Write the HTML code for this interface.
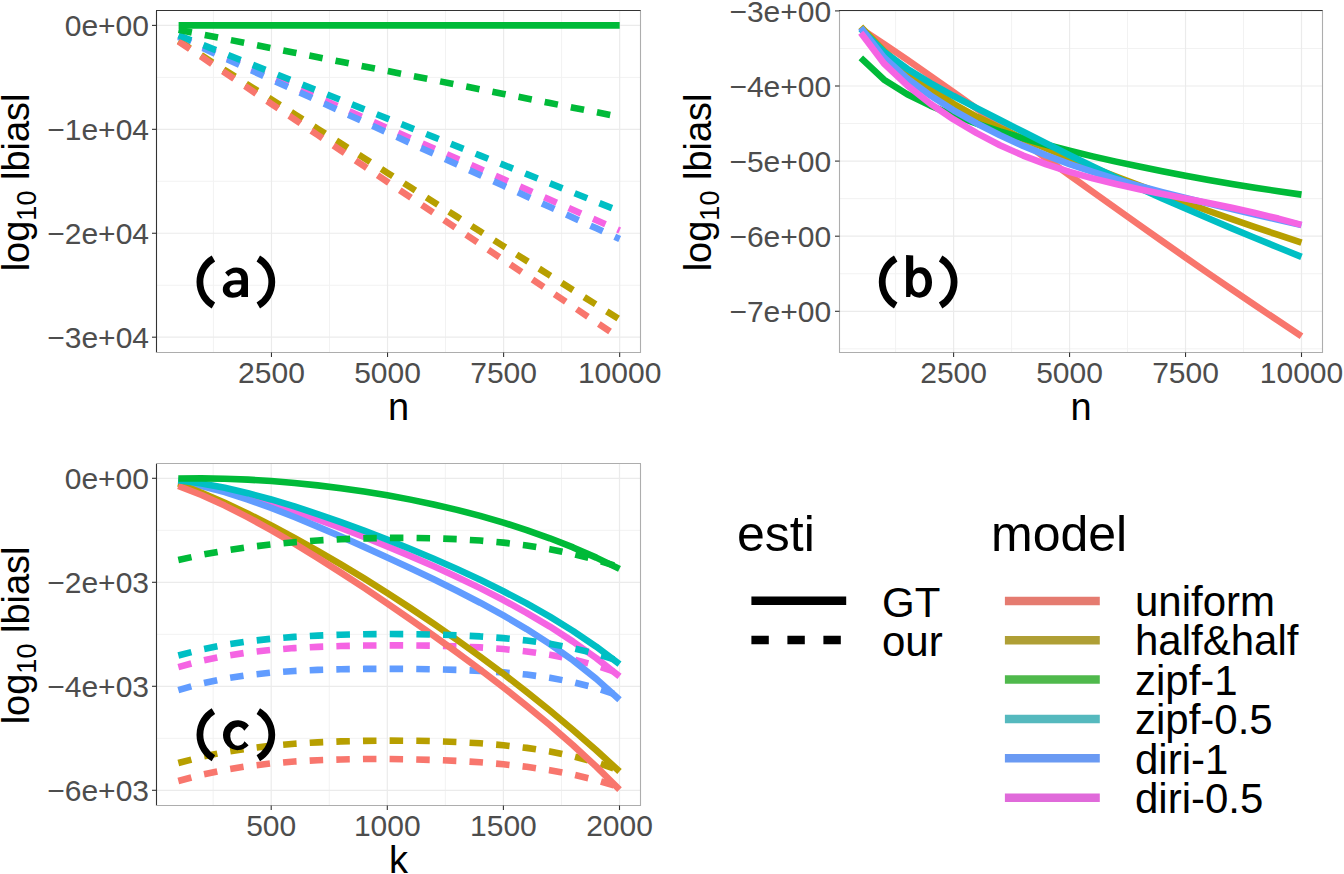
<!DOCTYPE html>
<html><head><meta charset="utf-8"><style>
html,body{margin:0;padding:0;background:#fff;}
svg{display:block;}
text{font-family:"Liberation Sans",sans-serif;}
.tk{font-size:30px;fill:#4D4D4D;}
.ax{font-size:38px;fill:#000;}
.sub{font-size:27px;}
.lt{font-size:50px;fill:#000;}
.ll{font-size:42px;fill:#000;}
.tag{font-weight:bold;fill:#000;}
</style></head><body>
<svg width="1344" height="874" viewBox="0 0 1344 874">
<rect x="0" y="0" width="1344" height="874" fill="#fff"/>
<line x1="213.43375" y1="10.5" x2="213.43375" y2="352.5" stroke="#F2F2F2" stroke-width="1"/>
<line x1="329.50125" y1="10.5" x2="329.50125" y2="352.5" stroke="#F2F2F2" stroke-width="1"/>
<line x1="445.56875" y1="10.5" x2="445.56875" y2="352.5" stroke="#F2F2F2" stroke-width="1"/>
<line x1="561.63625" y1="10.5" x2="561.63625" y2="352.5" stroke="#F2F2F2" stroke-width="1"/>
<line x1="156.5" y1="77.365" x2="640.5" y2="77.365" stroke="#F2F2F2" stroke-width="1"/>
<line x1="156.5" y1="181.295" x2="640.5" y2="181.295" stroke="#F2F2F2" stroke-width="1"/>
<line x1="156.5" y1="285.22499999999997" x2="640.5" y2="285.22499999999997" stroke="#F2F2F2" stroke-width="1"/>
<line x1="271.46750000000003" y1="10.5" x2="271.46750000000003" y2="352.5" stroke="#EBEBEB" stroke-width="1.2"/>
<line x1="387.535" y1="10.5" x2="387.535" y2="352.5" stroke="#EBEBEB" stroke-width="1.2"/>
<line x1="503.6025000000001" y1="10.5" x2="503.6025000000001" y2="352.5" stroke="#EBEBEB" stroke-width="1.2"/>
<line x1="619.6700000000001" y1="10.5" x2="619.6700000000001" y2="352.5" stroke="#EBEBEB" stroke-width="1.2"/>
<line x1="156.5" y1="25.4" x2="640.5" y2="25.4" stroke="#EBEBEB" stroke-width="1.2"/>
<line x1="156.5" y1="129.32999999999998" x2="640.5" y2="129.32999999999998" stroke="#EBEBEB" stroke-width="1.2"/>
<line x1="156.5" y1="233.26" x2="640.5" y2="233.26" stroke="#EBEBEB" stroke-width="1.2"/>
<line x1="156.5" y1="337.18999999999994" x2="640.5" y2="337.18999999999994" stroke="#EBEBEB" stroke-width="1.2"/>
<path d="M178.61,36.00 L201.83,46.24 L225.04,56.47 L248.25,66.71 L271.47,76.95 L294.68,87.18 L317.89,97.42 L341.11,107.66 L364.32,117.89 L387.54,128.13 L410.75,138.37 L433.96,148.61 L457.18,158.84 L480.39,169.08 L503.60,179.32 L526.82,189.55 L550.03,199.79 L573.24,210.03 L596.46,220.26 L619.67,230.50" fill="none" stroke="#F564E3" stroke-width="6.6" stroke-linejoin="round" stroke-linecap="butt" stroke-dasharray="13.5 13.15"/>
<path d="M178.61,37.00 L201.83,47.63 L225.04,58.26 L248.25,68.89 L271.47,79.53 L294.68,90.16 L317.89,100.79 L341.11,111.42 L364.32,122.05 L387.54,132.68 L410.75,143.32 L433.96,153.95 L457.18,164.58 L480.39,175.21 L503.60,185.84 L526.82,196.47 L550.03,207.11 L573.24,217.74 L596.46,228.37 L619.67,239.00" fill="none" stroke="#619CFF" stroke-width="6.6" stroke-linejoin="round" stroke-linecap="butt" stroke-dasharray="13.5 13.15"/>
<path d="M178.61,41.00 L201.83,55.66 L225.04,70.32 L248.25,84.97 L271.47,99.63 L294.68,114.29 L317.89,128.95 L341.11,143.61 L364.32,158.26 L387.54,172.92 L410.75,187.58 L433.96,202.24 L457.18,216.89 L480.39,231.55 L503.60,246.21 L526.82,260.87 L550.03,275.53 L573.24,290.18 L596.46,304.84 L619.67,319.50" fill="none" stroke="#B79F00" stroke-width="6.6" stroke-linejoin="round" stroke-linecap="butt" stroke-dasharray="13.5 13.15"/>
<path d="M178.61,41.50 L201.83,57.11 L225.04,72.71 L248.25,88.32 L271.47,103.92 L294.68,119.53 L317.89,135.13 L341.11,150.74 L364.32,166.34 L387.54,181.95 L410.75,197.55 L433.96,213.16 L457.18,228.76 L480.39,244.37 L503.60,259.97 L526.82,275.58 L550.03,291.18 L573.24,306.79 L596.46,322.39 L619.67,338.00" fill="none" stroke="#F8766D" stroke-width="6.6" stroke-linejoin="round" stroke-linecap="butt" stroke-dasharray="13.5 13.15"/>
<path d="M178.61,35.30 L201.83,44.56 L225.04,53.82 L248.25,63.07 L271.47,72.33 L294.68,81.59 L317.89,90.85 L341.11,100.11 L364.32,109.36 L387.54,118.62 L410.75,127.88 L433.96,137.14 L457.18,146.39 L480.39,155.65 L503.60,164.91 L526.82,174.17 L550.03,183.43 L573.24,192.68 L596.46,201.94 L619.67,211.20" fill="none" stroke="#00BFC4" stroke-width="6.6" stroke-linejoin="round" stroke-linecap="butt" stroke-dasharray="13.5 13.15"/>
<path d="M178.61,25.40 L201.83,25.40 L225.04,25.40 L248.25,25.40 L271.47,25.40 L294.68,25.40 L317.89,25.40 L341.11,25.40 L364.32,25.40 L387.54,25.40 L410.75,25.40 L433.96,25.40 L457.18,25.40 L480.39,25.40 L503.60,25.40 L526.82,25.40 L550.03,25.40 L573.24,25.40 L596.46,25.40 L619.67,25.40" fill="none" stroke="#00BA38" stroke-width="6.6" stroke-linejoin="round" stroke-linecap="butt"/>
<path d="M178.61,29.80 L201.83,34.38 L225.04,38.96 L248.25,43.54 L271.47,48.12 L294.68,52.69 L317.89,57.27 L341.11,61.85 L364.32,66.43 L387.54,71.01 L410.75,75.59 L433.96,80.17 L457.18,84.75 L480.39,89.33 L503.60,93.91 L526.82,98.48 L550.03,103.06 L573.24,107.64 L596.46,112.22 L619.67,116.80" fill="none" stroke="#00BA38" stroke-width="6.6" stroke-linejoin="round" stroke-linecap="butt" stroke-dasharray="13.5 13.15"/>
<line x1="156.5" y1="10.5" x2="156.5" y2="353.0" stroke="#333" stroke-width="1.1"/>
<line x1="156.0" y1="10.5" x2="641.0" y2="10.5" stroke="#333" stroke-width="1.1"/>
<line x1="640.5" y1="10.5" x2="640.5" y2="353.0" stroke="#ADADAD" stroke-width="1.1"/>
<line x1="156.0" y1="352.5" x2="641.0" y2="352.5" stroke="#ADADAD" stroke-width="1.1"/>
<line x1="152.0" y1="25.4" x2="156.5" y2="25.4" stroke="#333" stroke-width="1.1"/>
<text x="149" y="36.1" class="tk" text-anchor="end">0e+00</text>
<line x1="152.0" y1="129.32999999999998" x2="156.5" y2="129.32999999999998" stroke="#333" stroke-width="1.1"/>
<text x="149" y="140.0" class="tk" text-anchor="end">−1e+04</text>
<line x1="152.0" y1="233.26" x2="156.5" y2="233.26" stroke="#333" stroke-width="1.1"/>
<text x="149" y="244.0" class="tk" text-anchor="end">−2e+04</text>
<line x1="152.0" y1="337.18999999999994" x2="156.5" y2="337.18999999999994" stroke="#333" stroke-width="1.1"/>
<text x="149" y="347.9" class="tk" text-anchor="end">−3e+04</text>
<line x1="271.46750000000003" y1="352.5" x2="271.46750000000003" y2="357.0" stroke="#333" stroke-width="1.1"/>
<text x="271.46750000000003" y="382.8" class="tk" text-anchor="middle">2500</text>
<line x1="387.535" y1="352.5" x2="387.535" y2="357.0" stroke="#333" stroke-width="1.1"/>
<text x="387.535" y="382.8" class="tk" text-anchor="middle">5000</text>
<line x1="503.6025000000001" y1="352.5" x2="503.6025000000001" y2="357.0" stroke="#333" stroke-width="1.1"/>
<text x="503.6025000000001" y="382.8" class="tk" text-anchor="middle">7500</text>
<line x1="619.6700000000001" y1="352.5" x2="619.6700000000001" y2="357.0" stroke="#333" stroke-width="1.1"/>
<text x="619.6700000000001" y="382.8" class="tk" text-anchor="middle">10000</text>
<text x="398.5" y="420" class="ax" text-anchor="middle">n</text>
<text transform="translate(28.5,182.4) rotate(-90)" class="ax" text-anchor="middle">log<tspan class="sub" dy="7.5">10</tspan><tspan dy="-7.5"> lbiasl</tspan></text>
<line x1="895.61375" y1="10.5" x2="895.61375" y2="352.5" stroke="#F2F2F2" stroke-width="1"/>
<line x1="1011.58125" y1="10.5" x2="1011.58125" y2="352.5" stroke="#F2F2F2" stroke-width="1"/>
<line x1="1127.54875" y1="10.5" x2="1127.54875" y2="352.5" stroke="#F2F2F2" stroke-width="1"/>
<line x1="1243.51625" y1="10.5" x2="1243.51625" y2="352.5" stroke="#F2F2F2" stroke-width="1"/>
<line x1="839.5" y1="48.449999999999996" x2="1322.5" y2="48.449999999999996" stroke="#F2F2F2" stroke-width="1"/>
<line x1="839.5" y1="123.55" x2="1322.5" y2="123.55" stroke="#F2F2F2" stroke-width="1"/>
<line x1="839.5" y1="198.65" x2="1322.5" y2="198.65" stroke="#F2F2F2" stroke-width="1"/>
<line x1="839.5" y1="273.74999999999994" x2="1322.5" y2="273.74999999999994" stroke="#F2F2F2" stroke-width="1"/>
<line x1="839.5" y1="348.84999999999997" x2="1322.5" y2="348.84999999999997" stroke="#F2F2F2" stroke-width="1"/>
<line x1="953.5975" y1="10.5" x2="953.5975" y2="352.5" stroke="#EBEBEB" stroke-width="1.2"/>
<line x1="1069.565" y1="10.5" x2="1069.565" y2="352.5" stroke="#EBEBEB" stroke-width="1.2"/>
<line x1="1185.5325" y1="10.5" x2="1185.5325" y2="352.5" stroke="#EBEBEB" stroke-width="1.2"/>
<line x1="1301.5" y1="10.5" x2="1301.5" y2="352.5" stroke="#EBEBEB" stroke-width="1.2"/>
<line x1="839.5" y1="10.9" x2="1322.5" y2="10.9" stroke="#EBEBEB" stroke-width="1.2"/>
<line x1="839.5" y1="86.0" x2="1322.5" y2="86.0" stroke="#EBEBEB" stroke-width="1.2"/>
<line x1="839.5" y1="161.1" x2="1322.5" y2="161.1" stroke="#EBEBEB" stroke-width="1.2"/>
<line x1="839.5" y1="236.2" x2="1322.5" y2="236.2" stroke="#EBEBEB" stroke-width="1.2"/>
<line x1="839.5" y1="311.29999999999995" x2="1322.5" y2="311.29999999999995" stroke="#EBEBEB" stroke-width="1.2"/>
<path d="M860.82,28.85 L884.02,43.93 L907.21,59.73 L930.40,75.87 L953.60,92.21 L976.79,108.69 L999.98,125.27 L1023.18,141.90 L1046.37,158.55 L1069.57,175.20 L1092.76,191.81 L1115.95,208.38 L1139.15,224.86 L1162.34,241.24 L1185.53,257.50 L1208.73,273.62 L1231.92,289.56 L1255.11,305.31 L1278.31,320.85 L1301.50,336.16" fill="none" stroke="#F8766D" stroke-width="6.6" stroke-linejoin="round" stroke-linecap="butt"/>
<path d="M860.82,26.81 L884.02,51.11 L907.21,70.84 L930.40,88.47 L953.60,103.82 L976.79,116.78 L999.98,128.06 L1023.18,138.48 L1046.37,148.46 L1069.57,158.10 L1092.76,167.45 L1115.95,176.56 L1139.15,185.45 L1162.34,194.15 L1185.53,202.66 L1208.73,210.99 L1231.92,219.16 L1255.11,227.15 L1278.31,234.98 L1301.50,242.64" fill="none" stroke="#B79F00" stroke-width="6.6" stroke-linejoin="round" stroke-linecap="butt"/>
<path d="M860.82,57.85 L884.02,79.70 L907.21,94.21 L930.40,105.61 L953.60,115.25 L976.79,123.72 L999.98,131.35 L1023.18,138.32 L1046.37,144.76 L1069.57,150.75 L1092.76,156.35 L1115.95,161.62 L1139.15,166.59 L1162.34,171.28 L1185.53,175.71 L1208.73,179.91 L1231.92,183.90 L1255.11,187.67 L1278.31,191.25 L1301.50,194.64" fill="none" stroke="#00BA38" stroke-width="6.6" stroke-linejoin="round" stroke-linecap="butt"/>
<path d="M860.82,28.96 L884.02,51.87 L907.21,68.79 L930.40,83.10 L953.60,96.02 L976.79,108.18 L999.98,119.98 L1023.18,131.74 L1046.37,143.53 L1069.57,155.19 L1092.76,166.54 L1115.95,177.47 L1139.15,188.07 L1162.34,198.44 L1185.53,208.59 L1208.73,218.56 L1231.92,228.35 L1255.11,237.98 L1278.31,247.48 L1301.50,256.84" fill="none" stroke="#00BFC4" stroke-width="6.6" stroke-linejoin="round" stroke-linecap="butt"/>
<path d="M860.82,27.79 L884.02,57.55 L907.21,78.42 L930.40,95.49 L953.60,110.28 L976.79,123.44 L999.98,135.26 L1023.18,145.88 L1046.37,155.42 L1069.57,164.07 L1092.76,171.94 L1115.95,179.17 L1139.15,185.86 L1162.34,192.11 L1185.53,198.01 L1208.73,203.64 L1231.92,209.09 L1255.11,214.44 L1278.31,219.76 L1301.50,225.13" fill="none" stroke="#619CFF" stroke-width="6.6" stroke-linejoin="round" stroke-linecap="butt"/>
<path d="M860.82,32.82 L884.02,63.49 L907.21,85.45 L930.40,103.72 L953.60,119.43 L976.79,133.18 L999.98,145.21 L1023.18,155.55 L1046.37,164.34 L1069.57,171.85 L1092.76,178.35 L1115.95,184.05 L1139.15,189.18 L1162.34,193.92 L1185.53,198.49 L1208.73,203.05 L1231.92,207.80 L1255.11,212.92 L1278.31,218.56 L1301.50,224.92" fill="none" stroke="#F564E3" stroke-width="6.6" stroke-linejoin="round" stroke-linecap="butt"/>
<line x1="839.5" y1="10.5" x2="839.5" y2="353.0" stroke="#ADADAD" stroke-width="1.1"/>
<line x1="839.0" y1="10.5" x2="1323.0" y2="10.5" stroke="#333" stroke-width="1.1"/>
<line x1="1322.5" y1="10.5" x2="1322.5" y2="353.0" stroke="#ADADAD" stroke-width="1.1"/>
<line x1="839.0" y1="352.5" x2="1323.0" y2="352.5" stroke="#ADADAD" stroke-width="1.1"/>
<line x1="835.0" y1="10.9" x2="839.5" y2="10.9" stroke="#333" stroke-width="1.1"/>
<text x="831.2" y="21.6" class="tk" text-anchor="end">−3e+00</text>
<line x1="835.0" y1="86.0" x2="839.5" y2="86.0" stroke="#333" stroke-width="1.1"/>
<text x="831.2" y="96.7" class="tk" text-anchor="end">−4e+00</text>
<line x1="835.0" y1="161.1" x2="839.5" y2="161.1" stroke="#333" stroke-width="1.1"/>
<text x="831.2" y="171.8" class="tk" text-anchor="end">−5e+00</text>
<line x1="835.0" y1="236.2" x2="839.5" y2="236.2" stroke="#333" stroke-width="1.1"/>
<text x="831.2" y="246.9" class="tk" text-anchor="end">−6e+00</text>
<line x1="835.0" y1="311.29999999999995" x2="839.5" y2="311.29999999999995" stroke="#333" stroke-width="1.1"/>
<text x="831.2" y="322.0" class="tk" text-anchor="end">−7e+00</text>
<line x1="953.5975" y1="352.5" x2="953.5975" y2="357.0" stroke="#333" stroke-width="1.1"/>
<text x="953.5975" y="382.8" class="tk" text-anchor="middle">2500</text>
<line x1="1069.565" y1="352.5" x2="1069.565" y2="357.0" stroke="#333" stroke-width="1.1"/>
<text x="1069.565" y="382.8" class="tk" text-anchor="middle">5000</text>
<line x1="1185.5325" y1="352.5" x2="1185.5325" y2="357.0" stroke="#333" stroke-width="1.1"/>
<text x="1185.5325" y="382.8" class="tk" text-anchor="middle">7500</text>
<line x1="1301.5" y1="352.5" x2="1301.5" y2="357.0" stroke="#333" stroke-width="1.1"/>
<text x="1301.5" y="382.8" class="tk" text-anchor="middle">10000</text>
<text x="1081.0" y="420" class="ax" text-anchor="middle">n</text>
<text transform="translate(711,182.4) rotate(-90)" class="ax" text-anchor="middle">log<tspan class="sub" dy="7.5">10</tspan><tspan dy="-7.5"> lbiasl</tspan></text>
<line x1="213.14999999999998" y1="463.5" x2="213.14999999999998" y2="805.5" stroke="#F2F2F2" stroke-width="1"/>
<line x1="329.25" y1="463.5" x2="329.25" y2="805.5" stroke="#F2F2F2" stroke-width="1"/>
<line x1="445.35" y1="463.5" x2="445.35" y2="805.5" stroke="#F2F2F2" stroke-width="1"/>
<line x1="561.4499999999999" y1="463.5" x2="561.4499999999999" y2="805.5" stroke="#F2F2F2" stroke-width="1"/>
<line x1="156.5" y1="530.3" x2="640.5" y2="530.3" stroke="#F2F2F2" stroke-width="1"/>
<line x1="156.5" y1="634.3" x2="640.5" y2="634.3" stroke="#F2F2F2" stroke-width="1"/>
<line x1="156.5" y1="738.3" x2="640.5" y2="738.3" stroke="#F2F2F2" stroke-width="1"/>
<line x1="271.2" y1="463.5" x2="271.2" y2="805.5" stroke="#EBEBEB" stroke-width="1.2"/>
<line x1="387.29999999999995" y1="463.5" x2="387.29999999999995" y2="805.5" stroke="#EBEBEB" stroke-width="1.2"/>
<line x1="503.4" y1="463.5" x2="503.4" y2="805.5" stroke="#EBEBEB" stroke-width="1.2"/>
<line x1="619.5" y1="463.5" x2="619.5" y2="805.5" stroke="#EBEBEB" stroke-width="1.2"/>
<line x1="156.5" y1="478.3" x2="640.5" y2="478.3" stroke="#EBEBEB" stroke-width="1.2"/>
<line x1="156.5" y1="582.3" x2="640.5" y2="582.3" stroke="#EBEBEB" stroke-width="1.2"/>
<line x1="156.5" y1="686.3" x2="640.5" y2="686.3" stroke="#EBEBEB" stroke-width="1.2"/>
<line x1="156.5" y1="790.3" x2="640.5" y2="790.3" stroke="#EBEBEB" stroke-width="1.2"/>
<path d="M178.32,480.37 L201.54,484.60 L224.76,489.97 L247.98,496.29 L271.20,503.37 L294.42,511.07 L317.64,519.30 L340.86,527.95 L364.08,536.99 L387.30,546.38 L410.52,556.14 L433.74,566.31 L456.96,576.94 L480.18,588.14 L503.40,600.04 L526.62,612.79 L549.84,626.57 L573.06,641.61 L596.28,658.15 L619.50,676.46" fill="none" stroke="#F564E3" stroke-width="6.6" stroke-linejoin="round" stroke-linecap="butt"/>
<path d="M178.32,667.06 L201.54,660.75 L224.76,655.98 L247.98,652.45 L271.20,649.89 L294.42,648.08 L317.64,646.85 L340.86,646.04 L364.08,645.56 L387.30,645.35 L410.52,645.39 L433.74,645.70 L456.96,646.34 L480.18,647.41 L503.40,649.04 L526.62,651.43 L549.84,654.79 L573.06,659.38 L596.28,665.50 L619.50,673.51" fill="none" stroke="#F564E3" stroke-width="6.6" stroke-linejoin="round" stroke-linecap="butt" stroke-dasharray="13.5 13.15"/>
<path d="M178.32,481.52 L201.54,486.03 L224.76,492.15 L247.98,499.53 L271.20,507.88 L294.42,516.96 L317.64,526.58 L340.86,536.59 L364.08,546.89 L387.30,557.43 L410.52,568.22 L433.74,579.29 L456.96,590.74 L480.18,602.72 L503.40,615.41 L526.62,629.06 L549.84,643.95 L573.06,660.43 L596.28,678.86 L619.50,699.70" fill="none" stroke="#619CFF" stroke-width="6.6" stroke-linejoin="round" stroke-linecap="butt"/>
<path d="M178.32,690.06 L201.54,683.49 L224.76,678.62 L247.98,675.10 L271.20,672.63 L294.42,670.96 L317.64,669.89 L340.86,669.25 L364.08,668.92 L387.30,668.82 L410.52,668.93 L433.74,669.27 L456.96,669.87 L480.18,670.86 L503.40,672.36 L526.62,674.58 L549.84,677.75 L573.06,682.14 L596.28,688.08 L619.50,695.93" fill="none" stroke="#619CFF" stroke-width="6.6" stroke-linejoin="round" stroke-linecap="butt" stroke-dasharray="13.5 13.15"/>
<path d="M178.32,483.53 L201.54,492.73 L224.76,502.85 L247.98,513.79 L271.20,525.47 L294.42,537.82 L317.64,550.79 L340.86,564.33 L364.08,578.41 L387.30,593.01 L410.52,608.12 L433.74,623.74 L456.96,639.89 L480.18,656.59 L503.40,673.89 L526.62,691.83 L549.84,710.49 L573.06,729.92 L596.28,750.23 L619.50,771.51" fill="none" stroke="#B79F00" stroke-width="6.6" stroke-linejoin="round" stroke-linecap="butt"/>
<path d="M178.32,763.03 L201.54,756.88 L224.76,752.11 L247.98,748.47 L271.20,745.75 L294.42,743.76 L317.64,742.35 L340.86,741.40 L364.08,740.84 L387.30,740.62 L410.52,740.71 L433.74,741.15 L456.96,741.98 L480.18,743.30 L503.40,745.21 L526.62,747.88 L549.84,751.48 L573.06,756.26 L596.28,762.45 L619.50,770.34" fill="none" stroke="#B79F00" stroke-width="6.6" stroke-linejoin="round" stroke-linecap="butt" stroke-dasharray="13.5 13.15"/>
<path d="M178.32,485.95 L201.54,495.04 L224.76,505.58 L247.98,517.32 L271.20,530.07 L294.42,543.62 L317.64,557.84 L340.86,572.61 L364.08,587.83 L387.30,603.44 L410.52,619.42 L433.74,635.76 L456.96,652.49 L480.18,669.68 L503.40,687.41 L526.62,705.81 L549.84,725.03 L573.06,745.24 L596.28,766.66 L619.50,789.53" fill="none" stroke="#F8766D" stroke-width="6.6" stroke-linejoin="round" stroke-linecap="butt"/>
<path d="M178.32,781.01 L201.54,774.70 L224.76,769.84 L247.98,766.16 L271.20,763.45 L294.42,761.52 L317.64,760.22 L340.86,759.43 L364.08,759.05 L387.30,759.02 L410.52,759.32 L433.74,759.94 L456.96,760.91 L480.18,762.31 L503.40,764.23 L526.62,766.80 L549.84,770.16 L573.06,774.52 L596.28,780.09 L619.50,787.13" fill="none" stroke="#F8766D" stroke-width="6.6" stroke-linejoin="round" stroke-linecap="butt" stroke-dasharray="13.5 13.15"/>
<path d="M178.32,480.31 L201.54,483.40 L224.76,487.76 L247.98,493.17 L271.20,499.46 L294.42,506.46 L317.64,514.07 L340.86,522.18 L364.08,530.72 L387.30,539.67 L410.52,549.02 L433.74,558.78 L456.96,569.00 L480.18,579.78 L503.40,591.21 L526.62,603.44 L549.84,616.63 L573.06,630.97 L596.28,646.70 L619.50,664.07" fill="none" stroke="#00BFC4" stroke-width="6.6" stroke-linejoin="round" stroke-linecap="butt"/>
<path d="M178.32,655.54 L201.54,649.51 L224.76,644.86 L247.98,641.36 L271.20,638.77 L294.42,636.90 L317.64,635.61 L340.86,634.75 L364.08,634.26 L387.30,634.06 L410.52,634.15 L433.74,634.53 L456.96,635.26 L480.18,636.42 L503.40,638.11 L526.62,640.49 L549.84,643.75 L573.06,648.11 L596.28,653.80 L619.50,661.13" fill="none" stroke="#00BFC4" stroke-width="6.6" stroke-linejoin="round" stroke-linecap="butt" stroke-dasharray="13.5 13.15"/>
<path d="M178.32,478.57 L201.54,478.34 L224.76,478.70 L247.98,479.61 L271.20,481.04 L294.42,482.96 L317.64,485.35 L340.86,488.20 L364.08,491.52 L387.30,495.33 L410.52,499.63 L433.74,504.46 L456.96,509.86 L480.18,515.88 L503.40,522.58 L526.62,530.02 L549.84,538.28 L573.06,547.44 L596.28,557.61 L619.50,568.89" fill="none" stroke="#00BA38" stroke-width="6.6" stroke-linejoin="round" stroke-linecap="butt"/>
<path d="M178.32,560.04 L201.54,554.88 L224.76,550.64 L247.98,547.18 L271.20,544.40 L294.42,542.18 L317.64,540.47 L340.86,539.21 L364.08,538.36 L387.30,537.91 L410.52,537.87 L433.74,538.26 L456.96,539.14 L480.18,540.57 L503.40,542.64 L526.62,545.47 L549.84,549.18 L573.06,553.92 L596.28,559.86 L619.50,567.20" fill="none" stroke="#00BA38" stroke-width="6.6" stroke-linejoin="round" stroke-linecap="butt" stroke-dasharray="13.5 13.15"/>
<line x1="156.5" y1="463.5" x2="156.5" y2="806.0" stroke="#333" stroke-width="1.1"/>
<line x1="156.0" y1="463.5" x2="641.0" y2="463.5" stroke="#ADADAD" stroke-width="1.1"/>
<line x1="640.5" y1="463.5" x2="640.5" y2="806.0" stroke="#ADADAD" stroke-width="1.1"/>
<line x1="156.0" y1="805.5" x2="641.0" y2="805.5" stroke="#ADADAD" stroke-width="1.1"/>
<line x1="152.0" y1="478.3" x2="156.5" y2="478.3" stroke="#333" stroke-width="1.1"/>
<text x="149" y="489.0" class="tk" text-anchor="end">0e+00</text>
<line x1="152.0" y1="582.3" x2="156.5" y2="582.3" stroke="#333" stroke-width="1.1"/>
<text x="149" y="593.0" class="tk" text-anchor="end">−2e+03</text>
<line x1="152.0" y1="686.3" x2="156.5" y2="686.3" stroke="#333" stroke-width="1.1"/>
<text x="149" y="697.0" class="tk" text-anchor="end">−4e+03</text>
<line x1="152.0" y1="790.3" x2="156.5" y2="790.3" stroke="#333" stroke-width="1.1"/>
<text x="149" y="801.0" class="tk" text-anchor="end">−6e+03</text>
<line x1="271.2" y1="805.5" x2="271.2" y2="810.0" stroke="#333" stroke-width="1.1"/>
<text x="271.2" y="835.8" class="tk" text-anchor="middle">500</text>
<line x1="387.29999999999995" y1="805.5" x2="387.29999999999995" y2="810.0" stroke="#333" stroke-width="1.1"/>
<text x="387.29999999999995" y="835.8" class="tk" text-anchor="middle">1000</text>
<line x1="503.4" y1="805.5" x2="503.4" y2="810.0" stroke="#333" stroke-width="1.1"/>
<text x="503.4" y="835.8" class="tk" text-anchor="middle">1500</text>
<line x1="619.5" y1="805.5" x2="619.5" y2="810.0" stroke="#333" stroke-width="1.1"/>
<text x="619.5" y="835.8" class="tk" text-anchor="middle">2000</text>
<text x="398.5" y="873" class="ax" text-anchor="middle">k</text>
<text transform="translate(28.5,635.4) rotate(-90)" class="ax" text-anchor="middle">log<tspan class="sub" dy="7.5">10</tspan><tspan dy="-7.5"> lbiasl</tspan></text>
<path d="M213.40,258.45 A27.3,27.3 0 0 0 213.40,305.55" fill="none" stroke="#000" stroke-width="6.8"/>
<path d="M258.30,258.45 A27.3,27.3 0 0 1 258.30,305.55" fill="none" stroke="#000" stroke-width="6.8"/>
<path fill="#000" fill-rule="evenodd" d="M225.1,272.5 C228,269.5 232,267.5 236.3,267.5 C244,267.5 248,272 248,279 L248,297 L241.3,297 L241.3,294.5 C239,296.7 236,297.8 232.5,297.8 C226.5,297.8 222.8,294 222.8,289.5 C222.8,283.5 228,280.2 236,280.2 L241.3,280.2 L241.3,279 C241.3,275 239,272.8 235.6,272.8 C232.5,272.8 230.3,274.3 228.5,276.6 Z M241.3,284.4 L236,284.4 C231.5,284.4 229.6,286.5 229.6,289 C229.6,291.3 231.3,292.7 233.8,292.7 C238,292.7 241.3,290 241.3,286.5 Z"/>
<path d="M895.70,258.45 A27.3,27.3 0 0 0 895.70,305.55" fill="none" stroke="#000" stroke-width="6.8"/>
<path d="M940.60,258.45 A27.3,27.3 0 0 1 940.60,305.55" fill="none" stroke="#000" stroke-width="6.8"/>
<path fill="#000" fill-rule="evenodd" d="M906.1,255.1 L913.2,255.6 L913.2,270.8 C915,268.4 917.5,267.3 920.5,267.3 C927.5,267.3 932,273.5 932,282.3 C932,291.3 927,297.7 919.5,297.7 C915.5,297.7 912.5,296 910.9,293.8 L910.2,297 L906.1,297 Z M918.8,272.9 C915,272.9 912.6,276.8 912.6,282.5 C912.6,288.5 915,292.5 918.8,292.5 C922.8,292.5 925.4,288.3 925.4,282.5 C925.4,276.8 922.8,272.9 918.8,272.9 Z"/>
<path d="M213.40,711.15 A27.3,27.3 0 0 0 213.40,758.25" fill="none" stroke="#000" stroke-width="6.8"/>
<path d="M258.30,711.15 A27.3,27.3 0 0 1 258.30,758.25" fill="none" stroke="#000" stroke-width="6.8"/>
<path fill="#000" d="M248.9,725.5 A14.7,14.95 0 1 0 248.6,745.2 L244.5,741.3 A7.7,9.5 0 1 1 244.3,730.8 Z"/>
<text x="737" y="551" class="lt">esti</text>
<text x="991" y="551" class="lt">model</text>
<line x1="751.4" y1="600.7" x2="846.2" y2="600.7" stroke="#000" stroke-width="8.4"/>
<line x1="751.4" y1="640" x2="846.2" y2="640" stroke="#000" stroke-width="8.4" stroke-dasharray="17.4 18.6"/>
<text x="882" y="616.5" class="ll">GT</text>
<text x="882" y="655.5" class="ll">our</text>
<line x1="1004.9" y1="600.90" x2="1099.8" y2="600.90" stroke="#E57B70" stroke-width="8.5"/>
<text x="1135" y="616.10" class="ll">uniform</text>
<line x1="1004.9" y1="640.25" x2="1099.8" y2="640.25" stroke="#AF9F35" stroke-width="8.5"/>
<text x="1135" y="655.45" class="ll">half&amp;half</text>
<line x1="1004.9" y1="679.60" x2="1099.8" y2="679.60" stroke="#4FB94C" stroke-width="8.5"/>
<text x="1135" y="694.80" class="ll">zipf-1</text>
<line x1="1004.9" y1="718.95" x2="1099.8" y2="718.95" stroke="#55B9BE" stroke-width="8.5"/>
<text x="1135" y="734.15" class="ll">zipf-0.5</text>
<line x1="1004.9" y1="758.30" x2="1099.8" y2="758.30" stroke="#6A9AF3" stroke-width="8.5"/>
<text x="1135" y="773.50" class="ll">diri-1</text>
<line x1="1004.9" y1="797.65" x2="1099.8" y2="797.65" stroke="#E06ADA" stroke-width="8.5"/>
<text x="1135" y="812.85" class="ll">diri-0.5</text>
</svg>
</body></html>
